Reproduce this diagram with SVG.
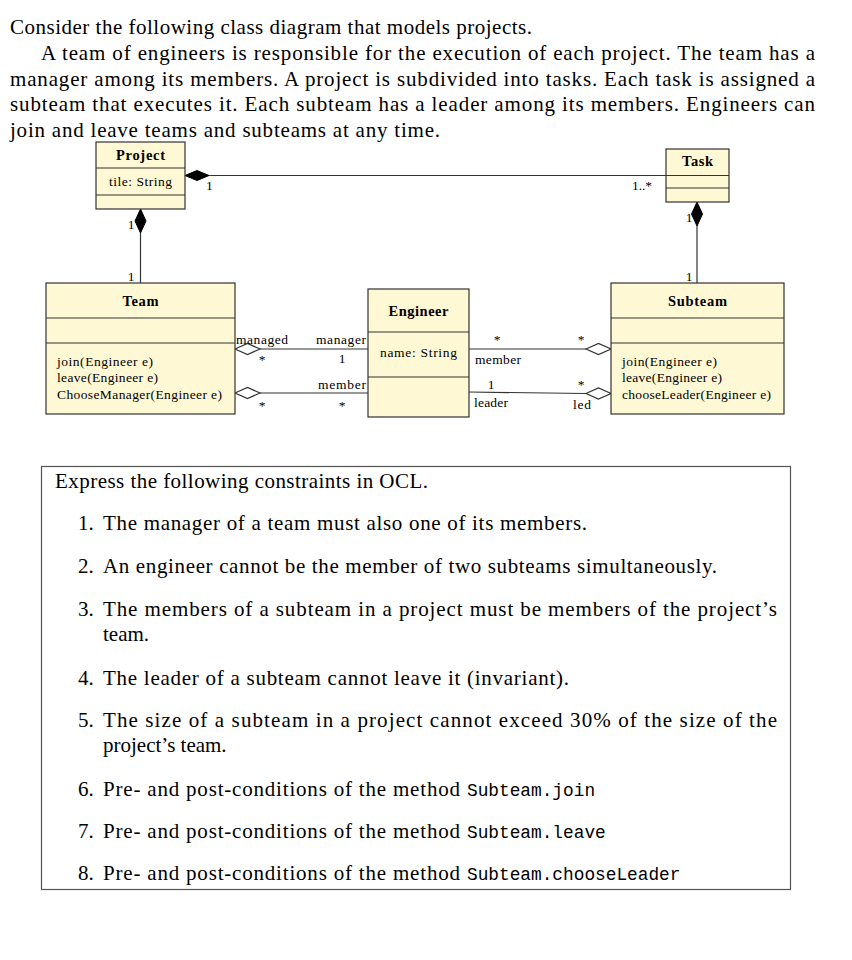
<svg xmlns="http://www.w3.org/2000/svg" width="852" height="960" viewBox="0 0 852 960">
<style>
.p{font-family:"Liberation Serif","DejaVu Serif",serif;font-size:21px;fill:#000}
.m{font-family:"Liberation Mono","DejaVu Sans Mono",monospace;font-size:17.8px;fill:#000}
.t{font-family:"Liberation Serif","DejaVu Serif",serif;font-size:13.5px;fill:#000}
.s{font-family:"Liberation Serif","DejaVu Serif",serif;font-size:13.5px;fill:#000}
.b{font-family:"Liberation Serif","DejaVu Serif",serif;font-size:14.5px;font-weight:bold;fill:#000;text-anchor:middle}
.box{fill:#fff8d4;stroke:#333;stroke-width:1.2}
.ln{stroke:#333;stroke-width:1.2;fill:none}
.fd{fill:#000;stroke:#000;stroke-width:1}
.hd{fill:#fff;stroke:#333;stroke-width:1.2}
.frame{fill:none;stroke:#555;stroke-width:1.2}
</style>

<g id="intro">
<text class="p" x="10" y="34" textLength="522" lengthAdjust="spacing">Consider the following class diagram that models projects.</text>
<text class="p" x="41" y="60" textLength="774" lengthAdjust="spacing">A team of engineers is responsible for the execution of each project. The team has a</text>
<text class="p" x="10" y="86" textLength="805" lengthAdjust="spacing">manager among its members. A project is subdivided into tasks. Each task is assigned a</text>
<text class="p" x="10" y="111" textLength="805" lengthAdjust="spacing">subteam that executes it. Each subteam has a leader among its members. Engineers can</text>
<text class="p" x="10" y="137" textLength="430" lengthAdjust="spacing">join and leave teams and subteams at any time.</text>
</g>

<g id="connectors">
<!-- Project - Task -->
<line class="ln" x1="209" y1="175.5" x2="666" y2="175.5"/>
<polygon class="fd" points="185,175.5 197,170.5 209,175.5 197,180.5"/>
<text class="s" x="206" y="190">1</text>
<text class="s" x="632" y="190" textLength="20" lengthAdjust="spacingAndGlyphs">1..*</text>
<!-- Project - Team -->
<line class="ln" x1="140.5" y1="233" x2="140.5" y2="283"/>
<polygon class="fd" points="140.5,209 146,221 140.5,233 135,221"/>
<text class="s" x="131" y="229" text-anchor="middle">1</text>
<text class="s" x="131" y="281" text-anchor="middle">1</text>
<!-- Task - Subteam -->
<line class="ln" x1="697" y1="226" x2="697" y2="283"/>
<polygon class="fd" points="697,202 702.5,214 697,226 691.5,214"/>
<text class="s" x="689" y="222" text-anchor="middle">1</text>
<text class="s" x="689" y="281" text-anchor="middle">1</text>
<!-- Team - Engineer manager -->
<line class="ln" x1="260" y1="349" x2="368" y2="349"/>
<polygon class="hd" points="235,349 247.5,343.5 260,349 247.5,354.5"/>
<text class="s" x="236" y="344" textLength="52" lengthAdjust="spacing">managed</text>
<text class="s" x="316" y="344" textLength="50" lengthAdjust="spacing">manager</text>
<text class="s" x="262" y="364" text-anchor="middle">*</text>
<text class="s" x="342" y="363" text-anchor="middle">1</text>
<!-- Team - Engineer member -->
<line class="ln" x1="260" y1="393" x2="368" y2="393"/>
<polygon class="hd" points="235,393 247.5,387.5 260,393 247.5,398.5"/>
<text class="s" x="318" y="389" textLength="48" lengthAdjust="spacing">member</text>
<text class="s" x="262" y="410" text-anchor="middle">*</text>
<text class="s" x="342" y="410" text-anchor="middle">*</text>
<!-- Engineer - Subteam member -->
<line class="ln" x1="469" y1="349" x2="586" y2="349"/>
<polygon class="hd" points="586,349 598.5,343.5 611,349 598.5,354.5"/>
<text class="s" x="497" y="344" text-anchor="middle">*</text>
<text class="s" x="581" y="344" text-anchor="middle">*</text>
<text class="s" x="475" y="364" textLength="46" lengthAdjust="spacing">member</text>
<!-- Engineer - Subteam leader -->
<line class="ln" x1="469" y1="392" x2="586" y2="393.5"/>
<polygon class="hd" points="586,393.5 598.5,388 611,393.5 598.5,399"/>
<text class="s" x="491" y="389" text-anchor="middle">1</text>
<text class="s" x="581" y="389" text-anchor="middle">*</text>
<text class="s" x="474" y="407" textLength="34" lengthAdjust="spacing">leader</text>
<text class="s" x="573" y="409" textLength="18" lengthAdjust="spacing">led</text>
</g>

<g id="Project">
<rect class="box" x="96" y="142" width="89" height="67"/>
<line class="ln" x1="96" y1="168" x2="185" y2="168"/>
<line class="ln" x1="96" y1="195" x2="185" y2="195"/>
<text class="b" x="140.5" y="160" textLength="49" lengthAdjust="spacing">Project</text>
<text class="t" x="140.5" y="186" text-anchor="middle" textLength="63" lengthAdjust="spacing">tile: String</text>
</g>

<g id="Task">
<rect class="box" x="666" y="149" width="63" height="53"/>
<line class="ln" x1="666" y1="175.5" x2="729" y2="175.5"/>
<line class="ln" x1="666" y1="188" x2="729" y2="188"/>
<text class="b" x="697.5" y="166" textLength="31" lengthAdjust="spacing">Task</text>
</g>

<g id="Team">
<rect class="box" x="46" y="283" width="189" height="131"/>
<line class="ln" x1="46" y1="318" x2="235" y2="318"/>
<line class="ln" x1="46" y1="343" x2="235" y2="343"/>
<text class="b" x="140.5" y="306" textLength="36" lengthAdjust="spacing">Team</text>
<text class="t" x="57" y="366" textLength="96" lengthAdjust="spacing">join(Engineer e)</text>
<text class="t" x="57" y="382" textLength="101" lengthAdjust="spacing">leave(Engineer e)</text>
<text class="t" x="57" y="399" textLength="165" lengthAdjust="spacing">ChooseManager(Engineer e)</text>
</g>

<g id="Engineer">
<rect class="box" x="368" y="289" width="101" height="128"/>
<line class="ln" x1="368" y1="332" x2="469" y2="332"/>
<line class="ln" x1="368" y1="377" x2="469" y2="377"/>
<text class="b" x="418.5" y="316" textLength="60" lengthAdjust="spacing">Engineer</text>
<text class="t" x="418.5" y="357" text-anchor="middle" textLength="77" lengthAdjust="spacing">name: String</text>
</g>

<g id="Subteam">
<rect class="box" x="611" y="283" width="173" height="131"/>
<line class="ln" x1="611" y1="318" x2="784" y2="318"/>
<line class="ln" x1="611" y1="343" x2="784" y2="343"/>
<text class="b" x="697.5" y="306" textLength="59" lengthAdjust="spacing">Subteam</text>
<text class="t" x="622" y="366" textLength="95" lengthAdjust="spacing">join(Engineer e)</text>
<text class="t" x="622" y="382" textLength="100" lengthAdjust="spacing">leave(Engineer e)</text>
<text class="t" x="622" y="399" textLength="149" lengthAdjust="spacing">chooseLeader(Engineer e)</text>
</g>

<g id="constraints">
<rect class="frame" x="41.5" y="466.5" width="749" height="423"/>
<text class="p" x="55" y="488" textLength="373" lengthAdjust="spacing">Express the following constraints in OCL.</text>
<text class="p" x="78" y="530">1.</text>
<text class="p" x="103" y="530" textLength="484" lengthAdjust="spacing">The manager of a team must also one of its members.</text>
<text class="p" x="78" y="573">2.</text>
<text class="p" x="103" y="573" textLength="614" lengthAdjust="spacing">An engineer cannot be the member of two subteams simultaneously.</text>
<text class="p" x="78" y="616">3.</text>
<text class="p" x="103" y="616" textLength="674" lengthAdjust="spacing">The members of a subteam in a project must be members of the project’s</text>
<text class="p" x="103" y="641">team.</text>
<text class="p" x="78" y="685">4.</text>
<text class="p" x="103" y="685" textLength="466" lengthAdjust="spacing">The leader of a subteam cannot leave it (invariant).</text>
<text class="p" x="78" y="727">5.</text>
<text class="p" x="103" y="727" textLength="674" lengthAdjust="spacing">The size of a subteam in a project cannot exceed 30% of the size of the</text>
<text class="p" x="103" y="752">project’s team.</text>
<text class="p" x="78" y="796">6.</text>
<text class="p" x="103" y="796" textLength="357" lengthAdjust="spacing">Pre- and post-conditions of the method</text>
<text class="m" x="467" y="796">Subteam.join</text>
<text class="p" x="78" y="838">7.</text>
<text class="p" x="103" y="838" textLength="357" lengthAdjust="spacing">Pre- and post-conditions of the method</text>
<text class="m" x="467" y="838">Subteam.leave</text>
<text class="p" x="78" y="880">8.</text>
<text class="p" x="103" y="880" textLength="357" lengthAdjust="spacing">Pre- and post-conditions of the method</text>
<text class="m" x="467" y="880">Subteam.chooseLeader</text>
</g>
</svg>
